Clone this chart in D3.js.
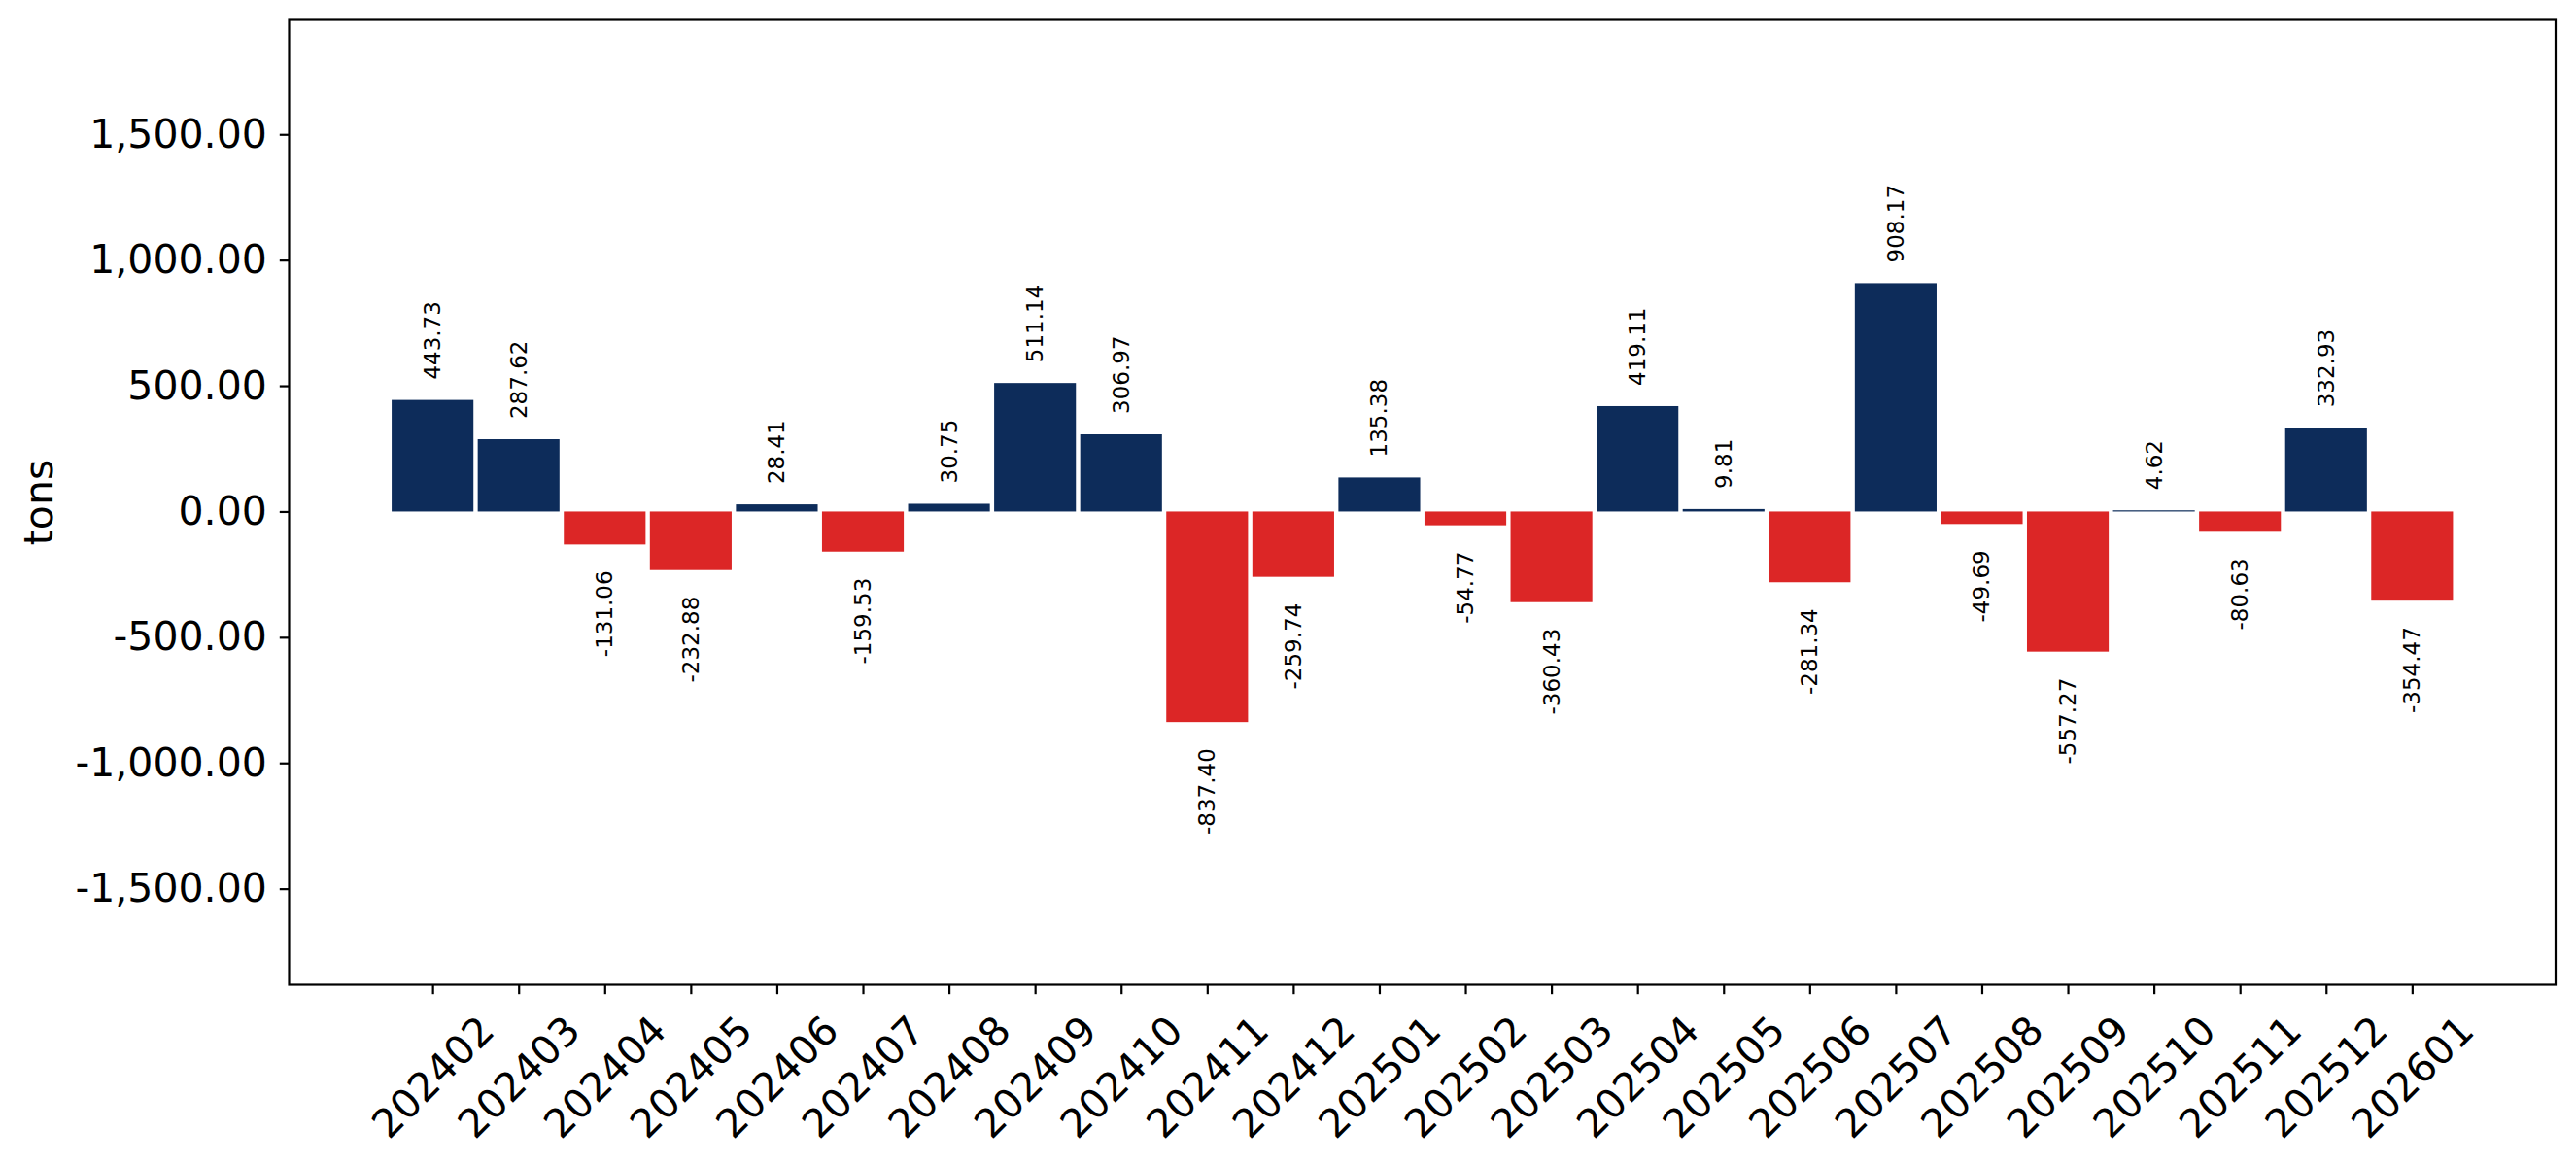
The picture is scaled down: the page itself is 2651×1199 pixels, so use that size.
<!DOCTYPE html>
<html>
<head>
<meta charset="utf-8">
<script src="https://cdn.jsdelivr.net/npm/d3@7"></script>
<style>
  body { margin: 0; background: #fff; }
  text { font-family: "DejaVu Sans", sans-serif; fill: #000; }
</style>
</head>
<body>
<div id="chart"></div>
<script>
// monthly values (tons)
var months = ["202402", "202403", "202404", "202405", "202406", "202407", "202408", "202409",
    "202410", "202411", "202412", "202501", "202502", "202503", "202504", "202505",
    "202506", "202507", "202508", "202509", "202510", "202511", "202512", "202601"];
var values = [443.73, 287.62, -131.06, -232.88, 28.41, -159.53, 30.75, 511.14,
    306.97, -837.40, -259.74, 135.38, -54.77, -360.43, 419.11, 9.81,
    -281.34, 908.17, -49.69, -557.27, 4.62, -80.63, 332.93, -354.47];
var yTicks = [-1500, -1000, -500, 0, 500, 1000, 1500];
var yLimits = [-1882, 1955];
var yTitle = "tons";

function BarChart(divId) {

    d3.select(divId).html("");

    var width = 2651,
        height = 1199;

    var left = 297.5, right = 2630, top = 20.5, bottom = 1013.5;

    var svg = d3.select(divId)
        .append("svg")
        .attr("width", width)
        .attr("height", height);

    var data = months.map(function(m, i){ return {month: m, value: values[i], idx: i}; });

    var x = d3.scaleLinear()
        .domain([-1.667, months.length + 0.667])
        .range([left, right]);

    var y = d3.scaleLinear()
        .domain(yLimits)
        .range([bottom, top]);

    var fmt = d3.format(",.2f");
    var fix = function(s){ return s.replace("\u2212", "-"); };

    var barW = x(0.95) - x(0);

    svg.append("g")
        .selectAll("rect")
        .data(data)
        .enter()
        .append("rect")
        .attr("x", function(d){ return x(d.idx) - barW / 2; })
        .attr("width", barW)
        .attr("y", function(d){ return y(Math.max(0, d.value)); })
        .attr("height", function(d){ return Math.abs(y(d.value) - y(0)); })
        .attr("fill", function(d){ return d.value >= 0 ? "#0d2c5a" : "#dc2626"; });

    // value labels, rotated
    svg.append("g")
        .selectAll("text")
        .data(data)
        .enter()
        .append("text")
        .attr("transform", function(d){
            var yy = d.value >= 0 ? y(d.value) - 21 : y(d.value) + 27;
            return "translate(" + x(d.idx) + "," + yy + ") rotate(-90)";
        })
        .attr("text-anchor", function(d){ return d.value >= 0 ? "start" : "end"; })
        .attr("dominant-baseline", "central")
        .style("font-size", "23px")
        .text(function(d){ return fix(d3.format(".2f")(d.value)); });

    // y axis
    var yAxis = svg.append("g")
        .attr("transform", "translate(" + left + ",0)")
        .call(d3.axisLeft(y).tickValues(yTicks).tickSize(9.7).tickPadding(13).tickFormat(function(d){ return fix(fmt(d)); }));
    yAxis.select(".domain").remove();
    yAxis.selectAll(".tick line").attr("stroke", "#000").attr("stroke-width", 2.2);
    yAxis.selectAll(".tick text").style("font-size", "41px").style("font-family", "DejaVu Sans");

    // x axis
    var xAxis = svg.append("g")
        .attr("transform", "translate(0," + bottom + ")")
        .call(d3.axisBottom(x).tickValues(d3.range(months.length)).tickSize(9.7).tickFormat(function(i){ return months[i]; }));
    xAxis.select(".domain").remove();
    xAxis.selectAll(".tick line").attr("stroke", "#000").attr("stroke-width", 2.2);
    xAxis.selectAll(".tick text")
        .attr("y", 0)
        .attr("dy", null)
        .attr("text-anchor", "middle")
        .attr("dominant-baseline", "central")
        .attr("transform", "translate(0,95) rotate(-45)")
        .style("font-size", "41px")
        .style("font-family", "DejaVu Sans");

    // frame
    svg.append("rect")
        .attr("x", left)
        .attr("y", top)
        .attr("width", right - left)
        .attr("height", bottom - top)
        .attr("fill", "none")
        .attr("stroke", "#000")
        .attr("stroke-width", 2.2);

    svg.append("text")
        .attr("transform", "translate(40," + (top + bottom) / 2 + ") rotate(-90)")
        .attr("text-anchor", "middle")
        .attr("dominant-baseline", "central")
        .style("font-size", "41px")
        .text(yTitle);
}

BarChart("#chart");
</script>
</body>
</html>
